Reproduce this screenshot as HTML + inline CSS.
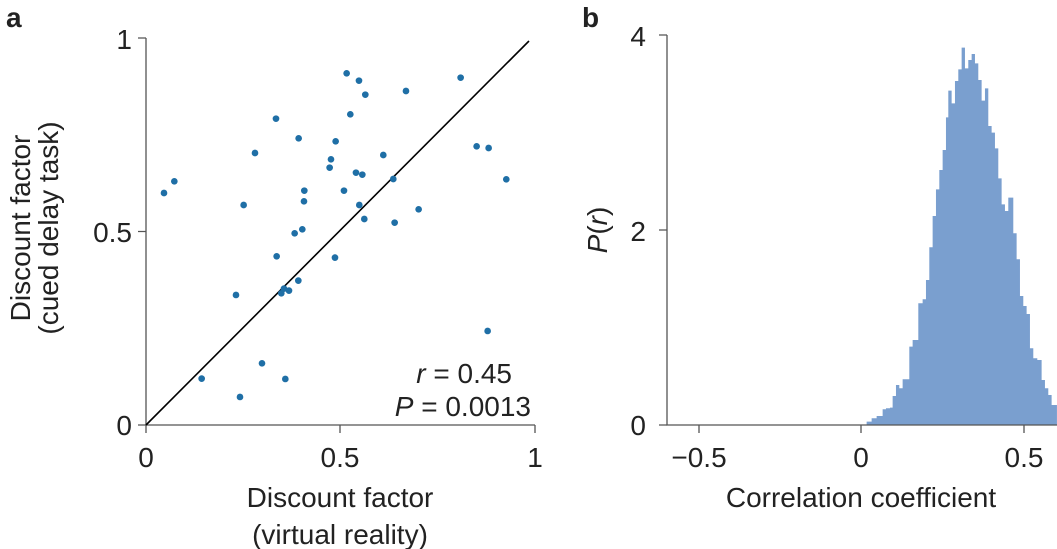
<!DOCTYPE html>
<html><head><meta charset="utf-8"><style>
body{margin:0;background:#fff}
svg{display:block;font-family:"Liberation Sans",Arial,sans-serif}
</style></head><body>
<svg width="1057" height="549" viewBox="0 0 1057 549" xmlns="http://www.w3.org/2000/svg">
<text x="6" y="27" font-size="28" font-weight="bold" fill="#222">a</text>
<text x="582" y="27" font-size="28" font-weight="bold" fill="#222">b</text>
<g stroke="#555" stroke-width="1.3" fill="none">
<path d="M146,38V425H535"/>
<path d="M138,38H146M138,231.5H146M138,425H146M146,425V433M340,425V433M535,425V433"/>
</g>
<g font-size="28" fill="#222">
<text x="132" y="49" text-anchor="end">1</text>
<text x="132" y="242" text-anchor="end">0.5</text>
<text x="132" y="435" text-anchor="end">0</text>
<text x="146" y="467" text-anchor="middle">0</text>
<text x="340" y="467" text-anchor="middle">0.5</text>
<text x="535" y="467" text-anchor="middle">1</text>
<text x="340" y="507" text-anchor="middle">Discount factor</text>
<text x="340" y="544" text-anchor="middle">(virtual reality)</text>
<text transform="translate(30,228) rotate(-90)" text-anchor="middle">Discount factor</text>
<text transform="translate(58,228) rotate(-90)" text-anchor="middle">(cued delay task)</text>
<text x="512" y="383" text-anchor="end"><tspan font-style="italic">r</tspan> = 0.45</text>
<text x="531" y="416" text-anchor="end"><tspan font-style="italic">P</tspan> = 0.0013</text>
</g>
<line x1="146" y1="425" x2="529" y2="41" stroke="#000" stroke-width="1.6"/>
<g transform="translate(140,30) scale(0.3333)" fill="#1f6fa6">
<circle cx="620" cy="130" r="10"/><circle cx="657" cy="152" r="10"/><circle cx="962" cy="143" r="10"/><circle cx="798" cy="183" r="10"/><circle cx="676" cy="194" r="10"/><circle cx="408" cy="266" r="10"/><circle cx="631" cy="253" r="10"/><circle cx="476" cy="325" r="10"/><circle cx="587" cy="334" r="10"/><circle cx="345" cy="369" r="10"/><circle cx="1010" cy="349" r="10"/><circle cx="1046" cy="354" r="10"/><circle cx="730" cy="375" r="10"/><circle cx="573" cy="388" r="10"/><circle cx="569" cy="413" r="10"/><circle cx="648" cy="428" r="10"/><circle cx="667" cy="434" r="10"/><circle cx="760" cy="447" r="10"/><circle cx="1099" cy="448" r="10"/><circle cx="103" cy="454" r="10"/><circle cx="72" cy="489" r="10"/><circle cx="493" cy="482" r="10"/><circle cx="612" cy="482" r="10"/><circle cx="492" cy="514" r="10"/><circle cx="311" cy="525" r="10"/><circle cx="658" cy="525" r="10"/><circle cx="836" cy="538" r="10"/><circle cx="673" cy="567" r="10"/><circle cx="764" cy="578" r="10"/><circle cx="487" cy="598" r="10"/><circle cx="464" cy="610" r="10"/><circle cx="410" cy="679" r="10"/><circle cx="585" cy="683" r="10"/><circle cx="475" cy="752" r="10"/><circle cx="432" cy="776" r="10"/><circle cx="447" cy="782" r="10"/><circle cx="424" cy="790" r="10"/><circle cx="288" cy="795" r="10"/><circle cx="1043" cy="903" r="10"/><circle cx="366" cy="1000" r="10"/><circle cx="185" cy="1046" r="10"/><circle cx="436" cy="1047" r="10"/><circle cx="300" cy="1101" r="10"/>
</g>
<g transform="translate(600,20) scale(0.3333)">
<path fill="#7a9fcf" d="M800,1215V1205H815V1195H830V1188H848V1168H858V1165H870V1163H878V1128H888V1095H898V1105H908V1078H928V980H938V960H955V850H968V838H978V780H988V682H998V588H1008V508H1018V450H1028V390H1038V292H1045V212H1055V250H1065V183H1075V148H1085V83H1095V145H1105V120H1115V102H1125V130H1135V180H1145V242H1155V205H1165V318H1175V338H1185V385H1195V475H1205V553H1215V573H1225V533H1240V640H1250V718H1260V828H1270V858H1280V882H1290V985H1300V1015H1312V1020H1325V1080H1335V1105H1345V1125H1355V1155H1371V1215Z"/>
</g>
<g stroke="#555" stroke-width="1.3" fill="none">
<path d="M667,35V425H1057"/>
<path d="M659,35H667M659,230H667M659,425H667M699,425V433M861,425V433M1024,425V433"/>
</g>
<g font-size="28" fill="#222">
<text x="646" y="46" text-anchor="end">4</text>
<text x="646" y="241" text-anchor="end">2</text>
<text x="646" y="435" text-anchor="end">0</text>
<text x="699" y="467" text-anchor="middle">−0.5</text>
<text x="861" y="467" text-anchor="middle">0</text>
<text x="1024" y="467" text-anchor="middle">0.5</text>
<text x="861" y="507" text-anchor="middle">Correlation coefficient</text>
<text transform="translate(607,230) rotate(-90)" text-anchor="middle"><tspan font-style="italic">P</tspan>(<tspan font-style="italic">r</tspan>)</text>
</g>
</svg>
</body></html>
